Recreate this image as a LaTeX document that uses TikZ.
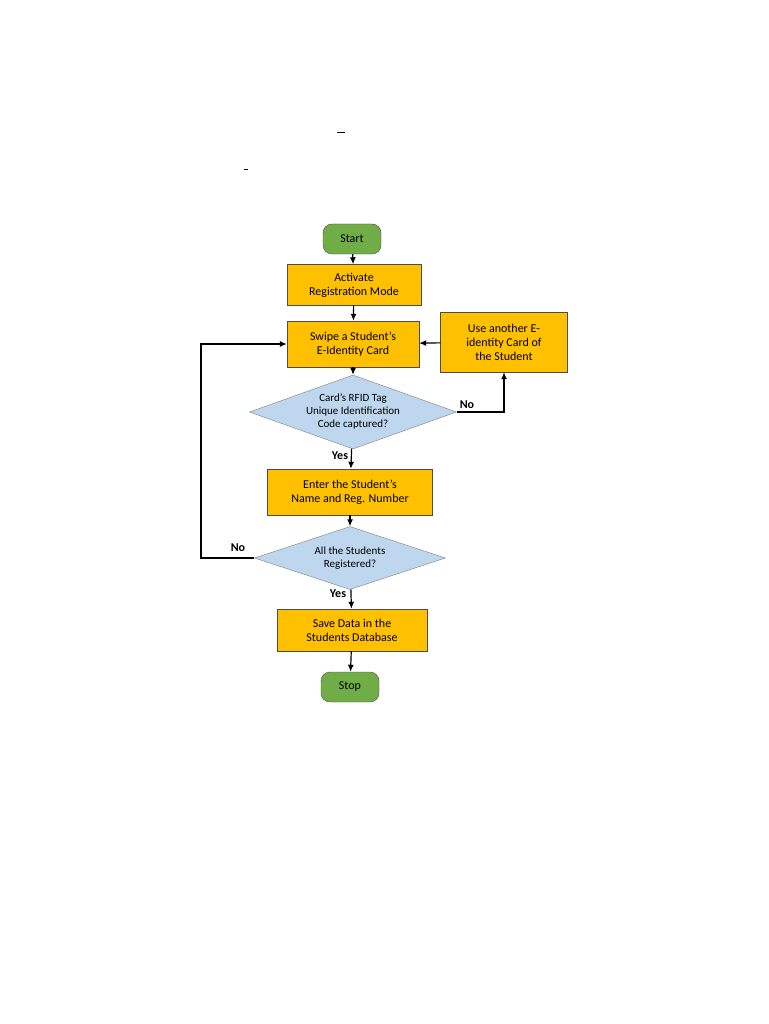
\documentclass[tikz,border=0pt]{standalone}
\usepackage{fontspec}
\setmainfont{Carlito}
\usetikzlibrary{shapes.geometric,arrows.meta}
\begin{document}
\begin{tikzpicture}[x=1pt,y=-1pt,font=\fontsize{12}{14}\selectfont,
 proc/.style={draw=black!70,fill={rgb,255:red,255;green,192;blue,0},align=center,inner sep=0pt},
 term/.style={draw=black!70,fill={rgb,255:red,112;green,173;blue,71},rounded corners=9pt,minimum width=58pt,minimum height=30pt},
 dec/.style={draw=black!50,fill={rgb,255:red,190;green,215;blue,238},diamond,aspect=2.8,inner sep=0pt,align=center,font=\fontsize{11}{13}\selectfont},
 arr/.style={draw=black,line width=1.2pt,-{Latex[length=7pt,width=6pt]}},
 lab/.style={font=\bfseries\fontsize{12}{14}\selectfont}]
\useasboundingbox (0,0) rectangle (768,1024);
\draw[line width=1pt] (337,133) -- (345,133);
\draw[line width=1pt] (244,170) -- (248,170);
\node[term] (start) at (352,239) {Start};
\node[proc,minimum width=134pt,minimum height=41pt] (act) at (354,285) {Activate\\Registration Mode};
\node[proc,minimum width=132pt,minimum height=46pt] (swipe) at (353,344) {Swipe a Student's\\E-Identity Card};
\node[proc,minimum width=127pt,minimum height=60pt] (use) at (504,342) {Use another E-\\identity Card of\\the Student};
\node[dec,minimum width=207pt,minimum height=74pt] (d1) at (353,412) {Card's RFID Tag\\Unique Identification\\Code captured?};
\node[proc,minimum width=165pt,minimum height=46pt] (enter) at (350,492) {Enter the Student's\\Name and Reg. Number};
\node[dec,minimum width=191pt,minimum height=63pt] (d2) at (350,558) {All the Students\\Registered?};
\node[proc,minimum width=150pt,minimum height=42pt] (save) at (352,630) {Save Data in the\\Students Database};
\node[term] (stop) at (350,687) {Stop};
\coordinate (l1) at (201,558);
\coordinate (l2) at (201,344);
\coordinate (r1) at (504,412);
\draw[arr] (start) -- (act);
\draw[arr] (act) -- (swipe);
\draw[arr] (swipe) -- (d1);
\draw[arr] (d1) -- (enter);
\draw[arr] (enter) -- (d2);
\draw[arr] (d2) -- (save);
\draw[arr] (save) -- (stop);
\draw[arr] (use) -- (swipe);
\draw[arr] (d1.east) -- (r1) -- (use.south);
\draw[arr] (d2.west) -- (l1) -- (l2) -- (swipe.west);
\node[lab] (no1) at (467,405) {No};
\node[lab] (yes1) at (340,456) {Yes};
\node[lab] (no2) at (238,548) {No};
\node[lab] (yes2) at (338,594) {Yes};
\end{tikzpicture}
\end{document}
